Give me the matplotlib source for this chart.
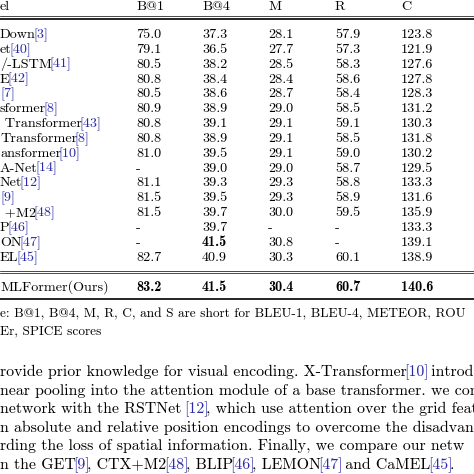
import matplotlib
matplotlib.use("Agg")
import matplotlib.pyplot as plt
from matplotlib.lines import Line2D

headers = ["el", "B@1", "B@4", "M", "R", "C"]
names = ["Down", "et", "/-LSTM", "E", "", "sformer", " Transformer", "Transformer", "ansformer",
         "A-Net", "Net", "", " +M2", "P", "ON", "EL"]
cites = ["[3]", "[40]", "[41]", "[42]", "[7]", "[8]", "[43]", "[8]", "[10]",
         "[14]", "[12]", "[9]", "[48]", "[46]", "[47]", "[45]"]
b1 = ["75.0", "79.1", "80.5", "80.8", "80.5", "80.9", "80.8", "80.8", "81.0", "-", "81.1", "81.5", "81.5", "-", "-", "82.7"]
b4 = ["37.3", "36.5", "38.2", "38.4", "38.6", "38.9", "39.1", "38.9", "39.5", "39.0", "39.3", "39.5", "39.7", "39.7", "41.5", "40.9"]
m = ["28.1", "27.7", "28.5", "28.4", "28.7", "29.0", "29.1", "29.1", "29.1", "29.0", "29.3", "29.3", "30.0", "-", "30.8", "30.3"]
r = ["57.9", "57.3", "58.3", "58.6", "58.4", "58.5", "59.1", "58.5", "59.0", "58.7", "58.8", "58.9", "59.5", "-", "-", "60.1"]
c = ["123.8", "121.9", "127.6", "127.8", "128.3", "131.2", "130.3", "131.8", "130.2", "129.5", "133.3", "131.6", "135.9", "133.3", "139.1", "138.9"]
bold_b4 = [14]
ours = ["MLFormer(Ours)", "83.2", "41.5", "30.4", "60.7", "140.6"]
caption = ["e: B@1, B@4, M, R, C, and S are short for BLEU-1, BLEU-4, METEOR, ROU",
           "Er, SPICE scores"]
para = [
    [("rovide prior knowledge for visual encoding. X-Transformer", "k"), ("[10]", "b"), (" introd", "k")],
    [("near pooling into the attention module of a base transformer. we com", "k")],
    [("network with the RSTNet ", "k"), ("[12]", "b"), (", which use attention over the grid feat", "k")],
    [("n absolute and relative position encodings to overcome the disadvan", "k")],
    [("rding the loss of spatial information. Finally, we compare our netw", "k")],
    [("n the GET", "k"), ("[9]", "b"), (", CTX+M2", "k"), ("[48]", "b"), (", BLIP", "k"), ("[46]", "b"),
     (", LEMON", "k"), ("[47]", "b"), (" and CaMEL", "k"), ("[45]", "b"), (".", "k")],
]

W = H = 474
fig = plt.figure(figsize=(4.74, 4.74), dpi=100)
fig.patch.set_facecolor("white")
BLUE = "#2a2aa8"
REG, BOLD = "cmr10", "cmb10"

def py(y):
    return 1 - y / H

def seq(x, y, parts, size, fam=REG):
    r_ = fig.canvas.get_renderer()
    for s, col in parts:
        if not s:
            continue
        t = fig.text(x / W, py(y), s, fontsize=size, family=fam,
                     color=BLUE if col == "b" else "black", va="baseline")
        bb = t.get_window_extent(r_)
        x += bb.width - 2.6

colx = [0, 136, 202, 268, 335, 401]
fs = 10.2
for j, h in enumerate(headers):
    fig.text(colx[j] / W, py(10), h, fontsize=fs, family=REG, va="baseline")
fig.add_artist(Line2D([0, 1], [py(18.5)] * 2, color="black", lw=1.2))
fig.add_artist(Line2D([0, 1], [py(16.3)] * 2, color="black", lw=0.5))

for i in range(len(names)):
    y = 38 + i * 14.85
    seq(0, y, [(names[i], "k"), (cites[i], "b")], fs)
    for j, col in enumerate([b1, b4, m, r, c]):
        fam = BOLD if (j == 1 and i in bold_b4) else REG
        fig.text(colx[j + 1] / W, py(y), col[i], fontsize=fs, family=fam, va="baseline")

fig.add_artist(Line2D([0, 1], [py(270.5)] * 2, color="black", lw=0.5))
fig.add_artist(Line2D([0, 1], [py(272.5)] * 2, color="black", lw=0.5))
fig.text(0, py(291), ours[0], fontsize=fs, family=REG, va="baseline")
for j in range(1, 6):
    fig.text(colx[j] / W, py(291), ours[j], fontsize=fs, family=BOLD, va="baseline")
fig.add_artist(Line2D([0, 1], [py(298.5)] * 2, color="black", lw=1.2))

fig.text(0, py(317), caption[0], fontsize=9.6, family=REG, va="baseline")
fig.text(0, py(334), caption[1], fontsize=9.6, family=REG, va="baseline")

for k, line in enumerate(para):
    seq(0, 376 + k * 18.6, line, 11.4)

fig.savefig("out.png", dpi=100, facecolor="white")
